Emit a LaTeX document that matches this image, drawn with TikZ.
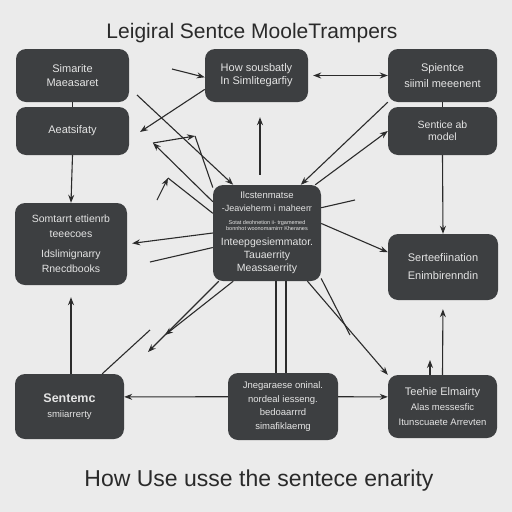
\documentclass[tikz,border=0pt]{standalone}
\usepackage{fontspec}
\setmainfont{Liberation Sans}
\usetikzlibrary{arrows.meta,calc}
\definecolor{bgc}{HTML}{EBEBEB}
\definecolor{boxc}{HTML}{3D3F41}
\definecolor{txtc}{HTML}{E4E4E4}
\definecolor{linec}{HTML}{2B2B2B}
\definecolor{titlec}{HTML}{2A2A2A}
\newcommand{\fsz}[2]{\fontsize{#1}{#2}\selectfont}
\begin{document}
\begin{tikzpicture}[x=1pt,y=-1pt,
  box/.style={rounded corners=10pt, fill=boxc, text=txtc, inner sep=0pt, align=center, font=\fsz{11}{14}},
  ln/.style={draw=linec, line width=1.1pt},
  arr/.style={ln, -{Stealth[length=8pt,width=6pt]}},
  arrb/.style={ln, {Stealth[length=8pt,width=6pt]}-{Stealth[length=8pt,width=6pt]}}]
\fill[bgc] (0,0) rectangle (512,512);
\useasboundingbox (0,0) rectangle (512,512);

\node[anchor=base, text=titlec, font=\fsz{21}{24}] (title) at (252,38) {Leigiral Sentce MooleTrampers};
\node[anchor=base, text=titlec, font=\fsz{23}{26}] (foot) at (259,486) {How Use usse the sentece enarity};

\node[box, minimum width=113pt, minimum height=53pt] (A) at (72.5,75.5) {Simarite\\Maeasaret};
\node[box, minimum width=113pt, minimum height=48pt] (B) at (72.5,131) {Aeatsifaty};
\node[box, font=\fsz{11}{13}, minimum width=103pt, minimum height=53pt] (C) at (256.5,75.5) {How sousbatly\\In Simlitegarfiy};
\node[box, font=\fsz{11}{16}, minimum width=109pt, minimum height=53pt] (D) at (442.5,75.5) {Spientce\\siimil meeenent};
\node[box, font=\fsz{10.5}{12}, minimum width=109pt, minimum height=48pt] (E) at (442.5,131) {Sentice ab\\model};
\node[box, font=\fsz{10.5}{13}, minimum width=108pt, minimum height=96pt] (F) at (267,233)
 {\fsz{9.5}{13}Ilcstenmatse\\\fsz{9}{13}-Jeavieherm i maheerr\\[0pt]
  \fsz{5.5}{6.5}Sotat deohnetion ii- trgamemed\\[-7pt]
  \fsz{5.5}{6.5}bonnhot woonomamirrr Kheranes\\[2pt]
  Inteepgesiemmator.\\Tauaerrity\\Meassaerrity};
\node[box, font=\fsz{10.5}{15}, minimum width=112pt, minimum height=82pt] (G) at (71,244)
 {Somtarrt ettienrb\\teeecoes\\[5pt]Idslimignarry\\Rnecdbooks};
\node[box, font=\fsz{11}{18}, minimum width=110pt, minimum height=66pt] (H) at (443,267) {Serteefiination\\Enimbirenndin};
\node[box, font=\fsz{9.5}{15}, minimum width=109pt, minimum height=65pt] (I) at (69.5,406.5) {\fsz{12.5}{15}\bfseries Sentemc\\smiiarrerty};
\node[box, font=\fsz{9.5}{13.5}, minimum width=110pt, minimum height=67pt] (J) at (283,406.5)
 {Jnegaraese oninal.\\nordeal iesseng.\\bedoaarrrd\\simafiklaemg};
\node[box, font=\fsz{9.5}{15}, minimum width=109pt, minimum height=63pt] (K) at (442.5,406.5)
 {\fsz{11}{15}Teehie Elmairty\\Alas messesfic\\Itunscuaete Arrevten};

% free ends
\coordinate (p1) at (137,95);
\coordinate (p2) at (140,132);
\coordinate (p3) at (172,69);
\coordinate (p5) at (153,143);
\coordinate (p6) at (195,136);
\coordinate (p7) at (168,178);
\coordinate (p8) at (157,200);
\coordinate (p9) at (150,262);
\coordinate (p11) at (148,352);
\coordinate (p12) at (165,335);
\coordinate (p13) at (150,330);
\coordinate (p14) at (350,335);
\coordinate (p15) at (430,360);
\coordinate (p16) at (355,200);

% vertical links
\draw[ln] (A.south) -- (B.north);
\draw[arr] (B.south) -- (G.north);
\draw[arr, shorten >=12pt] (G.south |- I.north) -- (G.south);
\draw[ln] (D.south) -- (E.north);
\draw[arr] (E.south) -- (H.north);
\draw[arr, shorten >=9pt] (K.north) -- (H.south);
\draw[arr, shorten <=10pt, shorten >=15pt] ([xshift=-7pt]F.north) -- ([xshift=-7pt]F.north |- C.south);
\draw[ln] ([xshift=9pt]F.south) -- ([xshift=9pt]F.south |- J.north);
\draw[ln] ([xshift=19pt]F.south) -- ([xshift=19pt]F.south |- J.north);

% horizontal links
\draw[arrb, shorten <=5pt] (C.east) -- (D.west);
\draw[arr] (J.170) -- (I.10);
\draw[arr] (J.10) -- (K.170);
\draw[arr, shorten >=5pt] (F.west) -- (G.east);
\draw[arr] (F.10) -- (H.165);

% diagonal links
\draw[arr] (p1) -- (F.125);
\draw[arr] (C.195) -- (p2);
\draw[arr] (p3) -- (C.182);
\draw[arr] (F.150) -- (p5);
\draw[arr] (p5) -- (p6);
\draw[ln] (p6) -- (F.140);
\draw[arr] (p8) -- (p7);
\draw[ln] (p7) -- (F.160);
\draw[ln] (F.195) -- (p9);
\draw[arr] (F.225) -- (p11);
\draw[arr] (F.235) -- (p12);
\draw[ln] (I.45) -- (p13);
\draw[arr] (F.310) -- (K.north west);
\draw[ln] (F.320) -- (p14);
\draw[arr] (K.north -| p15) -- (p15);
\draw[ln] (F.25) -- (p16);
\draw[arr] (D.south west) -- (F.55);
\draw[arr] (F.45) -- (E.west);
\end{tikzpicture}
\end{document}
